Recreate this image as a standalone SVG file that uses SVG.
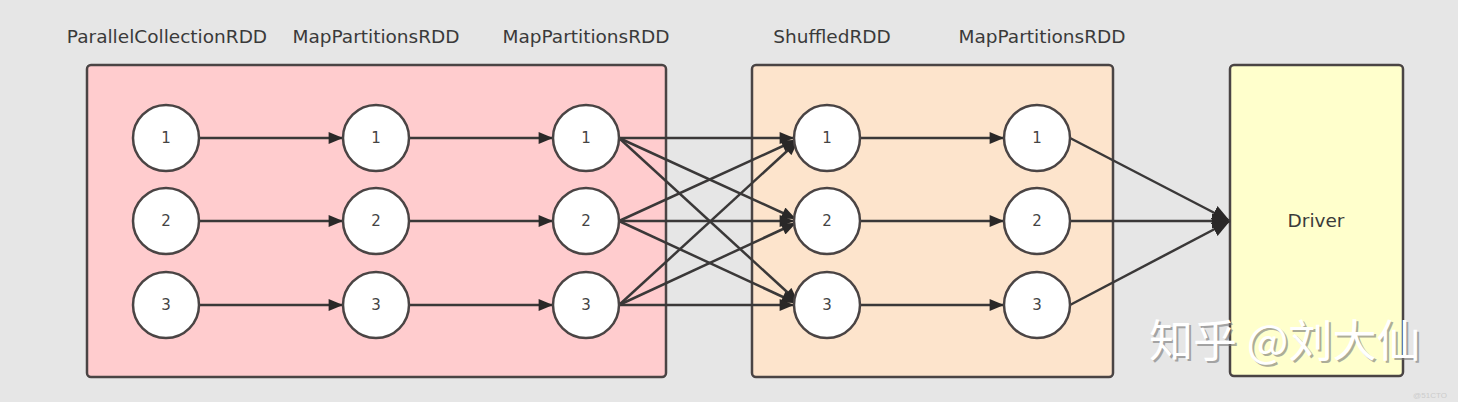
<svg xmlns="http://www.w3.org/2000/svg" width="1458" height="402" viewBox="0 0 1458 402">
<style>
.box{stroke:#4a4444;stroke-width:2.5}
.lbl{font-family:"DejaVu Sans",Verdana,sans-serif;font-size:18.5px;fill:#3a3a3a;text-anchor:middle}
.n circle{fill:#fff;stroke:#4a4444;stroke-width:2.5}
.n text{font-family:"DejaVu Sans",Verdana,sans-serif;font-size:15px;fill:#444;text-anchor:middle;dominant-baseline:central}
.c line{stroke:#3a3838;stroke-width:2.5;marker-end:url(#ah)}
</style>
<defs>
<marker id="ah" viewBox="0 0 12 10" refX="12" refY="5" markerWidth="16" markerHeight="12" markerUnits="userSpaceOnUse" orient="auto">
<path d="M0,0 L12,5 L0,10 z" fill="#2a2828"/>
</marker>
<marker id="ahb" viewBox="0 0 12 10" refX="12" refY="5" markerWidth="18" markerHeight="16" markerUnits="userSpaceOnUse" orient="auto">
<path d="M0,0 L12,5 L0,10 z" fill="#2a2828"/>
</marker>
</defs>
<rect width="1458" height="402" fill="#e6e6e6"/>
<g id="labels">
<text class="lbl" x="167" y="43">ParallelCollectionRDD</text>
<text class="lbl" x="376" y="43">MapPartitionsRDD</text>
<text class="lbl" x="586" y="43">MapPartitionsRDD</text>
<text class="lbl" x="832" y="43">ShuffledRDD</text>
<text class="lbl" x="1042" y="43">MapPartitionsRDD</text>
</g>
<g id="stage1"><rect class="box" x="87" y="65" width="579" height="312" rx="4" fill="#ffccce"/></g>
<g id="stage2"><rect class="box" x="752" y="65" width="361" height="312" rx="4" fill="#fde4cc"/></g>
<g id="driver">
<rect class="box" x="1230" y="65" width="173" height="311" rx="4" fill="#ffffcc"/>
<text class="lbl" x="1316" y="227">Driver</text>
</g>
<g class="c" id="connectors">
<line x1="199" y1="138" x2="343" y2="138"/>
<line x1="199" y1="221" x2="343" y2="221"/>
<line x1="199" y1="305" x2="343" y2="305"/>
<line x1="409" y1="138" x2="553" y2="138"/>
<line x1="409" y1="221" x2="553" y2="221"/>
<line x1="409" y1="305" x2="553" y2="305"/>
<line x1="619" y1="138" x2="794" y2="138"/>
<line x1="619" y1="138" x2="796" y2="219"/>
<line x1="619" y1="138" x2="798" y2="302"/>
<line x1="619" y1="221" x2="796" y2="140"/>
<line x1="619" y1="221" x2="794" y2="221"/>
<line x1="619" y1="221" x2="796" y2="303"/>
<line x1="619" y1="305" x2="798" y2="141"/>
<line x1="619" y1="305" x2="796" y2="223"/>
<line x1="619" y1="305" x2="794" y2="305"/>
<line x1="860" y1="138" x2="1004" y2="138"/>
<line x1="860" y1="221" x2="1004" y2="221"/>
<line x1="860" y1="305" x2="1004" y2="305"/>
<line x1="1070" y1="138" x2="1230" y2="221" style="marker-end:url(#ahb)"/>
<line x1="1070" y1="221" x2="1230" y2="221" style="marker-end:url(#ahb)"/>
<line x1="1070" y1="305" x2="1230" y2="221" style="marker-end:url(#ahb)"/>
</g>
<g class="n" id="p1_1"><circle cx="166" cy="138" r="33"/><text x="166" y="138">1</text></g>
<g class="n" id="p1_2"><circle cx="166" cy="221" r="33"/><text x="166" y="221">2</text></g>
<g class="n" id="p1_3"><circle cx="166" cy="305" r="33"/><text x="166" y="305">3</text></g>
<g class="n" id="p2_1"><circle cx="376" cy="138" r="33"/><text x="376" y="138">1</text></g>
<g class="n" id="p2_2"><circle cx="376" cy="221" r="33"/><text x="376" y="221">2</text></g>
<g class="n" id="p2_3"><circle cx="376" cy="305" r="33"/><text x="376" y="305">3</text></g>
<g class="n" id="p3_1"><circle cx="586" cy="138" r="33"/><text x="586" y="138">1</text></g>
<g class="n" id="p3_2"><circle cx="586" cy="221" r="33"/><text x="586" y="221">2</text></g>
<g class="n" id="p3_3"><circle cx="586" cy="305" r="33"/><text x="586" y="305">3</text></g>
<g class="n" id="s1"><circle cx="827" cy="138" r="33"/><text x="827" y="138">1</text></g>
<g class="n" id="s2"><circle cx="827" cy="221" r="33"/><text x="827" y="221">2</text></g>
<g class="n" id="s3"><circle cx="827" cy="305" r="33"/><text x="827" y="305">3</text></g>
<g class="n" id="m1"><circle cx="1037" cy="138" r="33"/><text x="1037" y="138">1</text></g>
<g class="n" id="m2"><circle cx="1037" cy="221" r="33"/><text x="1037" y="221">2</text></g>
<g class="n" id="m3"><circle cx="1037" cy="305" r="33"/><text x="1037" y="305">3</text></g>
<g id="watermark">
<text x="1151" y="359" font-family="'Noto Sans CJK SC',sans-serif" font-size="44" fill="#777" opacity="0.6">知乎 @刘大仙</text>
<text x="1149" y="357" font-family="'Noto Sans CJK SC',sans-serif" font-size="44" fill="#fff">知乎 @刘大仙</text>
<text x="1430" y="398" font-family="'Liberation Sans',sans-serif" font-size="8" fill="#ccc" text-anchor="middle">@51CTO</text>
</g>
</svg>
